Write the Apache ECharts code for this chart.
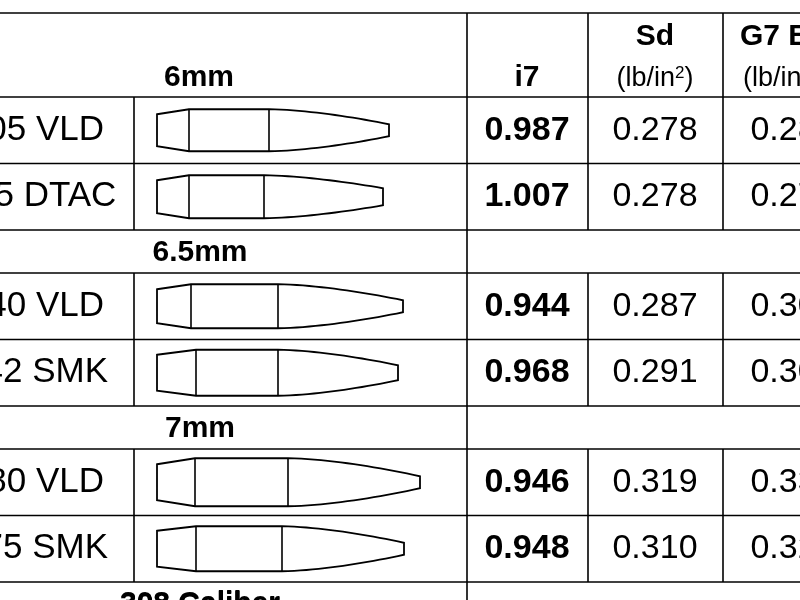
<!DOCTYPE html>
<html><head><meta charset="utf-8">
<script src="https://cdn.jsdelivr.net/npm/echarts@6/dist/echarts.min.js"></script>
<style>html,body{margin:0;background:#fff}#c{width:800px;height:600px}</style>
</head><body><div id="c"></div>
<script>
const names = ['105 VLD', '105 DTAC', '140 VLD', '142 SMK', '180 VLD', '175 SMK'];
const i7 = ['0.987', '1.007', '0.944', '0.968', '0.946', '0.948'];
const sd = ['0.278', '0.278', '0.287', '0.291', '0.319', '0.310'];
const g7 = ['0.282', '0.276', '0.304', '0.301', '0.337', '0.327'];
const sections = ['6mm', '6.5mm', '7mm', '308 Caliber'];
// bullet profile: boat tail, shank, ogive lengths; body, base, meplat diameters
const tailLen = [32, 32, 34, 39, 38, 39];
const bodyLen = [80, 75, 87, 82, 93, 86];
const noseLen = [120, 119, 125, 120, 132, 122];
const bodyDia = [42, 43, 44, 46, 48, 45];
const baseDia = [32, 33, 34, 36, 36, 36];
const tipDia = [12, 17, 12, 15, 12, 12];

// table layout (pixel units on the hidden axes)
const colX = [134, 467, 588, 723];
const topY = 13, headBottom = 97, rowH = 66.5, secH = 43;
const rowTop = [], secTop = [];
let y = headBottom;
for (let i = 0; i < names.length; i++) {
  if (i > 0 && i % 2 === 0) { secTop.push(y); y += secH; }
  rowTop.push(y); y += rowH;
}
secTop.push(y);

const lines = [[0, topY, 800, topY], [0, headBottom, 800, headBottom], [colX[1], topY, colX[1], 600]];
[colX[2], colX[3]].forEach(x => lines.push([x, topY, x, headBottom]));
rowTop.forEach(t => {
  lines.push([0, t + rowH, 800, t + rowH]);
  colX.forEach((x, k) => { if (k !== 1) lines.push([x, t, x, t + rowH]); });
});
secTop.forEach(t => lines.push([0, t + secH, 800, t + secH]));

const FONT = '"Liberation Sans", Arial, sans-serif';
const texts = [
  [199, 78, '6mm', 'bold 30px', 'center'],
  [527, 78, 'i7', 'bold 30px', 'center'],
  [655, 37, 'Sd', 'bold 30px', 'center'],
  [655, 79, '(lb/in{s|2})', '27px', 'center'],
  [740, 37, 'G7 BC', 'bold 30px', 'left'],
  [743, 79, '(lb/in{s|2})', '27px', 'left']
];
secTop.forEach((t, k) => { if (k < 3) texts.push([200, t + secH / 2 + 1, sections[k + 1], 'bold 30px', 'center']); });
rowTop.forEach((t, i) => {
  const cy = t + rowH / 2;
  texts.push([36, cy, names[i], '35px', 'center'], [527, cy, i7[i], 'bold 34px', 'center'],
    [655, cy, sd[i], '34px', 'center'], [793, cy, g7[i], '34px', 'center']);
});

const chart = echarts.init(document.getElementById('c'));
chart.setOption({
  animation: false,
  grid: { left: 0, right: 0, top: 0, bottom: 0 },
  xAxis: { type: 'value', min: 0, max: 800, show: false },
  yAxis: { type: 'value', min: 0, max: 600, inverse: true, show: false },
  series: [
    {
      type: 'custom', data: lines,
      renderItem: (params, api) => {
        const a = api.coord([api.value(0), api.value(1)]);
        const b = api.coord([api.value(2), api.value(3)]);
        return { type: 'line', shape: { x1: a[0], y1: a[1], x2: b[0], y2: b[1] }, style: { stroke: '#000', lineWidth: 1.6 } };
      }
    },
    {
      type: 'custom', data: names.map((n, i) => [157, rowTop[i] + rowH / 2, tailLen[i], bodyLen[i], noseLen[i], bodyDia[i], baseDia[i], tipDia[i]]),
      renderItem: (params, api) => {
        const x0 = api.value(0), cy = api.value(1);
        const x1 = x0 + api.value(2), x2 = x1 + api.value(3), x3 = x2 + api.value(4);
        const R = api.value(5) / 2, rb = api.value(6) / 2, rt = api.value(7) / 2;
        const top = [[x0, cy - rb], [x1, cy - R], [x2, cy - R]];
        for (let k = 1; k <= 20; k++) {
          const t = k / 20;
          const px = x2 + (x3 - x2) * t;
          const r = R - (R - rt) * Math.pow(t, 1.6);
          top.push([px, cy - r]);
        }
        const pts = top.concat(top.slice().reverse().map(p => [p[0], 2 * cy - p[1]])).map(p => api.coord(p));
        const vl = (x, r) => {
          const a = api.coord([x, cy - r]), b = api.coord([x, cy + r]);
          return { type: 'line', shape: { x1: a[0], y1: a[1], x2: b[0], y2: b[1] }, style: { stroke: '#000', lineWidth: 1.6 } };
        };
        return {
          type: 'group', children: [
            { type: 'polygon', shape: { points: pts }, style: { fill: '#fff', stroke: '#000', lineWidth: 1.8 } },
            vl(x1, R), vl(x2, R)
          ]
        };
      }
    },
    {
      type: 'custom', data: texts,
      renderItem: (params, api) => {
        const d = texts[params.dataIndex];
        const p = api.coord([d[0], d[1]]);
        return {
          type: 'text',
          style: {
            x: p[0], y: p[1], text: d[2], font: d[3] + ' ' + FONT, fill: '#000',
            align: d[4], verticalAlign: 'middle',
            rich: { s: { fontSize: 17, fontFamily: 'Liberation Sans', verticalAlign: 'top', padding: [0, 0, 12, 0] } }
          }
        };
      }
    },
    {
      type: 'custom', data: [[200, 589]],
      renderItem: (params, api) => {
        const p = api.coord([api.value(0), api.value(1)]);
        return { type: 'text', style: { x: p[0], y: p[1], text: sections[3], font: 'bold 30px ' + FONT, fill: '#000', align: 'center', verticalAlign: 'top' } };
      }
    }
  ]
});
</script></body></html>
